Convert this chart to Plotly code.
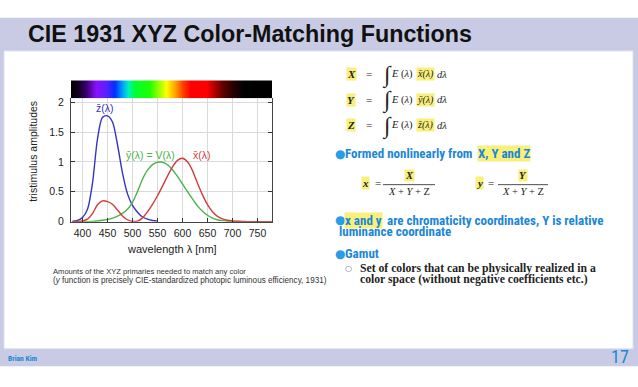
import plotly.graph_objects as go

W, H = 638, 387
def px(x): return x / W
def py(y): return 1 - y / H

# ---------------- data (CIE 1931 2° colour-matching functions, 10 nm) ----------------
wavelength_nm = [380, 390, 400, 410, 420, 430, 440, 450, 460, 470, 480, 490, 500,
                 510, 520, 530, 540, 550, 560, 570, 580, 590, 600, 610, 620, 630,
                 640, 650, 660, 670, 680, 690, 700, 710, 720, 730, 740, 750, 760, 770, 780]
x_bar = [0.0014, 0.0042, 0.0143, 0.0435, 0.1344, 0.2839, 0.3483, 0.3362, 0.2908, 0.1954,
         0.0956, 0.0320, 0.0049, 0.0093, 0.0633, 0.1655, 0.2904, 0.4334, 0.5945, 0.7621,
         0.9163, 1.0263, 1.0622, 1.0026, 0.8544, 0.6424, 0.4479, 0.2835, 0.1649, 0.0874,
         0.0468, 0.0227, 0.0114, 0.0058, 0.0029, 0.0014, 0.0007, 0.0003, 0.0002, 0.0001, 0.0000]
y_bar = [0.0000, 0.0001, 0.0004, 0.0012, 0.0040, 0.0116, 0.0230, 0.0380, 0.0600, 0.0910,
         0.1390, 0.2080, 0.3230, 0.5030, 0.7100, 0.8620, 0.9540, 0.9950, 0.9950, 0.9520,
         0.8700, 0.7570, 0.6310, 0.5030, 0.3810, 0.2650, 0.1750, 0.1070, 0.0610, 0.0320,
         0.0170, 0.0082, 0.0041, 0.0021, 0.0010, 0.0005, 0.0002, 0.0001, 0.0001, 0.0000, 0.0000]
z_wavelength_nm = [380, 390, 400, 410, 420, 430, 440, 450, 460, 470, 480, 490, 500,
                   510, 520, 530, 540, 550]
z_bar = [0.0065, 0.0201, 0.0679, 0.2074, 0.6456, 1.3856, 1.7471, 1.7721, 1.6692, 1.2876,
         0.8130, 0.4652, 0.2720, 0.1582, 0.0782, 0.0422, 0.0203, 0.0087]

x_ticks = [400, 450, 500, 550, 600, 650, 700, 750]
y_ticks = [0, 0.5, 1, 1.5, 2]
y_tick_labels = ["0", "0.5", "1", "1.5", "2"]

spectrum_nm = list(range(377, 780))
spectrum_stops = [(377, "#000000"), (392, "#120020"), (408, "#3a0070"), (428, "#8a10ff"),
                  (448, "#5a20ff"), (465, "#0030ff"), (480, "#00a0ff"), (492, "#00f0c0"),
                  (505, "#00ff30"), (535, "#20ff00"), (552, "#90ff00"), (568, "#ffff00"),
                  (585, "#ffa000"), (600, "#ff4000"), (615, "#ff0000"), (648, "#ff0000"),
                  (660, "#c00000"), (680, "#600000"), (700, "#280000"), (722, "#000000"),
                  (779, "#000000")]

X0, X1 = 377, 779
colorscale = [[(nm - X0) / (X1 - X0), c] for nm, c in spectrum_stops]

BLUE_C = "#3434c4"
GREEN_C = "#4cb24c"
RED_C = "#d23c3c"

fig = go.Figure()

fig.add_trace(go.Heatmap(x=spectrum_nm, y=[0], z=[spectrum_nm], colorscale=colorscale,
                         zmin=X0, zmax=X1, showscale=False, hoverinfo="skip",
                         xaxis="x2", yaxis="y2"))

fig.add_trace(go.Scatter(x=z_wavelength_nm, y=z_bar, mode="lines", name="z",
                         line=dict(color=BLUE_C, width=1.4, shape="spline", smoothing=0.8)))
fig.add_trace(go.Scatter(x=wavelength_nm, y=y_bar, mode="lines", name="y",
                         line=dict(color=GREEN_C, width=1.4, shape="spline", smoothing=0.8)))
fig.add_trace(go.Scatter(x=wavelength_nm, y=x_bar, mode="lines", name="x",
                         line=dict(color=RED_C, width=1.4, shape="spline", smoothing=0.8)))

plot_top, plot_bot = 98.3, 224.3
ytop = (plot_bot - plot_top) / 61.0

axis_font = dict(family="Liberation Sans, Arial, sans-serif", size=10.5, color="#222")
fig.update_layout(
    width=W, height=H, autosize=False, margin=dict(l=0, r=0, t=0, b=0),
    paper_bgcolor="white", plot_bgcolor="white", showlegend=False,
    xaxis=dict(domain=[px(71), px(272)], range=[X0, X1], anchor="y",
               tickvals=x_ticks, ticks="inside", ticklen=4, tickcolor="#333",
               showgrid=True, gridcolor="#dadada", gridwidth=1, zeroline=False,
               showline=True, linecolor="#444", linewidth=1, mirror=False,
               tickfont=axis_font, ticklabelstandoff=2),
    yaxis=dict(domain=[py(plot_bot), py(plot_top)], range=[0, ytop], anchor="x",
               tickvals=y_ticks, ticktext=y_tick_labels, ticks="inside", ticklen=4,
               tickcolor="#333", showgrid=True, gridcolor="#dadada", zeroline=False,
               showline=True, linecolor="#444", linewidth=1, mirror="ticks",
               tickfont=axis_font, ticklabelstandoff=4),
    xaxis2=dict(domain=[px(71), px(272)], range=[X0, X1], anchor="y2", visible=False),
    yaxis2=dict(domain=[py(98.3), py(80)], range=[-0.5, 0.5], anchor="x2", visible=False),
)

shapes = [
    dict(type="rect", xref="paper", yref="paper", x0=0, x1=1, y0=py(372), y1=py(16),
         fillcolor="#c8cbe3", line=dict(width=0), layer="below"),
    dict(type="rect", xref="paper", yref="paper", x0=px(4), x1=px(633), y0=py(354), y1=py(50),
         fillcolor="white", line=dict(color="#dfe1ee", width=1), layer="below"),
    # fraction bars
    dict(type="line", xref="paper", yref="paper", x0=px(383), x1=px(435), y0=py(186.5), y1=py(186.5),
         line=dict(color="#222", width=0.8)),
    dict(type="line", xref="paper", yref="paper", x0=px(498), x1=px(548), y0=py(186.5), y1=py(186.5),
         line=dict(color="#222", width=0.8)),
]
fig.update_layout(shapes=shapes)

ann = []
def text(x, y, s, size, color="#222", family="Liberation Sans, Arial, sans-serif",
         xanchor="left", bg=None, angle=0):
    d = dict(x=px(x), y=py(y), xref="paper", yref="paper", text=s, showarrow=False,
             xanchor=xanchor, yanchor="middle", font=dict(size=size, color=color, family=family),
             borderpad=0, textangle=angle)
    if bg:
        d["bgcolor"] = bg
    ann.append(d)

# title
text(27, 33, "<b>CIE 1931 XYZ Color-Matching Functions</b>", 23.3, "#111",
     "Liberation Sans, Arial, sans-serif")

# chart labels
text(105, 108, "z\u0304(\u03bb)", 10.5, BLUE_C, xanchor="center")
text(150, 156.5, "y\u0304(\u03bb) = V(\u03bb)", 10.5, GREEN_C, xanchor="center")
text(202, 156.5, "x\u0304(\u03bb)", 10.5, RED_C, xanchor="center")
text(33, 153, "tristimulus amplitudes", 10.5, "#222", xanchor="center", angle=-90)
text(172, 252.5, "wavelength \u03bb [nm]", 11, "#222", xanchor="center")

# caption
CAP = "Liberation Sans, Arial, sans-serif"
text(52, 275, "Amounts of the XYZ primaries needed to match any color", 7.6, "#333", CAP)
text(52, 284, "(<i>y</i> function is precisely CIE-standardized photopic luminous efficiency, 1931)",
     8.15, "#333", CAP)

# integrals
SERIF = "Liberation Serif, DejaVu Serif, serif"
YEL = "#f8f07a"
rows = [(74, "X", "x\u0304(\u03bb)"), (100, "Y", "y\u0304(\u03bb)"), (126, "Z", "z\u0304(\u03bb)")]
for yy, L, f in rows:
    text(346, yy, "<b><i>%s</i></b>" % L, 11, "#222", SERIF, bg=YEL)
    text(365, yy, "=", 11, "#222", SERIF)
    text(381, yy + 1, "\u222b", 23, "#222", SERIF)
    text(390, yy, "<i>E</i> (<i>\u03bb</i>)", 10.5, "#222", SERIF)
    text(416, yy, "<i>%s</i>" % f, 10, "#222", SERIF, bg=YEL)
    text(436, yy, "<i>d\u03bb</i>", 10.5, "#222", SERIF)

NARROW = "Liberation Sans Narrow, Roboto Condensed, Arial Narrow, Liberation Sans, sans-serif"
DOT = "DejaVu Sans, sans-serif"
BLUE_T = "#1c86d6"
BUL = "#2a9de8"

text(334, 155, "\u25cf", 12, BUL, DOT)
text(344, 155, "<b>Formed nonlinearly from</b>", 13, BLUE_T, NARROW)
text(477, 155, "<b>X, Y and Z</b>", 13, BLUE_T, NARROW, bg=YEL)

# fractions
text(361, 185, "<b><i>x</i></b>", 11, "#222", SERIF, bg=YEL)
text(374, 185, "=", 11, "#222", SERIF)
text(409, 177, "<b><i>X</i></b>", 10.5, "#222", SERIF, xanchor="center", bg=YEL)
text(409, 194, "<i>X</i> + <i>Y</i> + Z", 10.5, "#222", SERIF, xanchor="center")
text(475, 185, "<b><i>y</i></b>", 11, "#222", SERIF, bg=YEL)
text(487, 185, "=", 11, "#222", SERIF)
text(523, 177, "<b><i>Y</i></b>", 10.5, "#222", SERIF, xanchor="center", bg=YEL)
text(523, 194, "<i>X</i> + <i>Y</i> + Z", 10.5, "#222", SERIF, xanchor="center")

text(334, 223, "\u25cf", 12, BUL, DOT)
text(344, 223, "<b>x and y</b>", 13, BLUE_T, NARROW, bg=YEL)
text(386, 223, "<b>are chromaticity coordinates, Y is relative</b>", 13, BLUE_T, NARROW)
text(338, 234.5, "<b>luminance coordinate</b>", 13, BLUE_T, NARROW)

text(334, 257, "\u25cf", 12, BUL, DOT)
text(344, 257, "<b>Gamut</b>", 13, BLUE_T, NARROW)

text(344, 272.5, "\u25cb", 8, "#666", DOT)
text(359, 272.5, "<b>Set of colors that can be physically realized in a</b>", 11.7, "#222", SERIF)
text(359, 283.5, "<b>color space (without negative coefficients etc.)</b>", 11.7, "#222", SERIF)

# footer
text(7, 364, "<b>Brian Kim</b>", 7.5, BLUE_T, NARROW)
text(630, 362, "17", 18, BLUE_T, NARROW, xanchor="right")

fig.update_layout(annotations=ann)
fig.write_html("out.html", config={"displayModeBar": False},
               post_script="document.body.style.margin='0';document.body.style.overflow='hidden';")
